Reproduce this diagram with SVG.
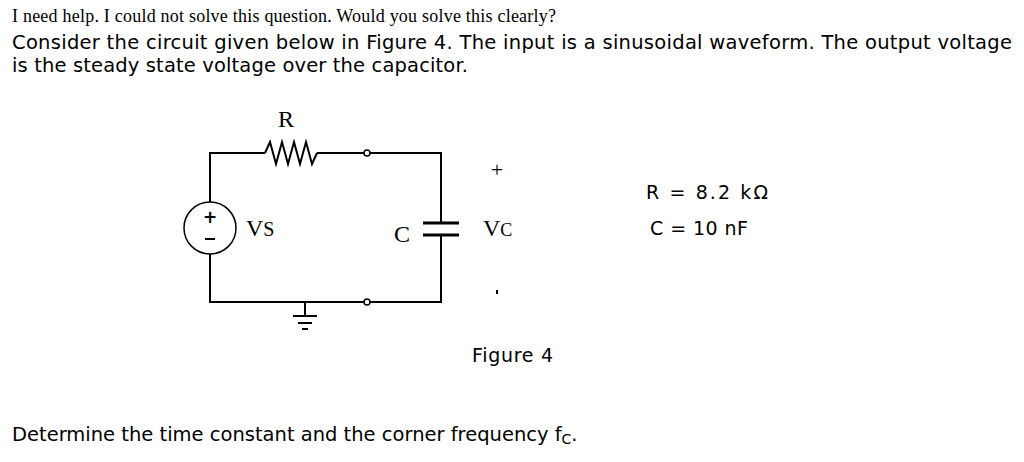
<svg xmlns="http://www.w3.org/2000/svg" width="1024" height="462" viewBox="0 0 1024 462">
<style>
.w{stroke:#000;stroke-width:2;fill:none}
.s{font-family:"Liberation Serif",serif;fill:#000}
.a{font-family:"DejaVu Sans",sans-serif;fill:#000}
</style>
<rect width="1024" height="462" fill="#fff"/>
<text class="s" x="12" y="22" font-size="18" textLength="544">I need help. I could not solve this question. Would you solve this clearly?</text>
<text class="a" x="12" y="49" font-size="19.5" textLength="1000">Consider the circuit given below in Figure 4. The input is a sinusoidal waveform. The output voltage</text>
<text class="a" x="12" y="72" font-size="19.5" textLength="456">is the steady state voltage over the capacitor.</text>
<g id="connectors">
<polyline class="w" points="210,202 210,153 265,153"/>
<polyline class="w" points="317,153 441,153 441,223"/>
<polyline class="w" points="441,235 441,302 210,302 210,254"/>
<line class="w" x1="305" y1="302" x2="305" y2="315"/>
</g>
<g id="R"><polyline class="w" points="265,153 270,142 276,164 282,142 288,164 294,142 300,164 306,142 312,164 317,153"/>
<text class="s" x="286" y="127" font-size="24" text-anchor="middle">R</text></g>
<g id="nodes"><circle cx="367" cy="153" r="3" fill="#fff" stroke="#000" stroke-width="1.5"/><circle cx="367" cy="302" r="3" fill="#fff" stroke="#000" stroke-width="1.5"/></g>
<g id="Vs"><circle cx="210" cy="228" r="26" fill="#fff" stroke="#000" stroke-width="1.5"/>
<text class="a" x="210" y="223" font-size="17" font-weight="bold" text-anchor="middle">+</text>
<line x1="205" y1="239" x2="215" y2="239" stroke="#000" stroke-width="2"/>
<text class="s" x="246" y="236" font-size="24">V<tspan font-size="20">S</tspan></text></g>
<g id="C"><line x1="423" y1="223" x2="459" y2="223" stroke="#000" stroke-width="3"/><line x1="423" y1="235" x2="459" y2="235" stroke="#000" stroke-width="3"/>
<text class="s" x="394" y="242" font-size="24">C</text></g>
<g id="Vc"><text class="s" x="497" y="177" font-size="22" text-anchor="middle">+</text>
<text class="s" x="483" y="236" font-size="24">V<tspan font-size="18">C</tspan></text>
<line x1="497" y1="290" x2="497" y2="294" stroke="#000" stroke-width="2"/></g>
<g id="ground"><line class="w" x1="293" y1="316" x2="317" y2="316"/><line class="w" x1="298" y1="323" x2="312" y2="323"/><line class="w" x1="302" y1="329" x2="308" y2="329"/></g>
<text class="a" x="646" y="199" font-size="19" textLength="122">R = 8.2 kΩ</text>
<text class="a" x="650" y="235" font-size="19" textLength="98">C = 10 nF</text>
<text class="a" x="472" y="362" font-size="19" textLength="81">Figure 4</text>
<text class="a" x="12" y="441" font-size="19.5">Determine the time constant and the corner frequency f<tspan font-size="14" dy="3">C</tspan><tspan dy="-3">.</tspan></text>
</svg>
